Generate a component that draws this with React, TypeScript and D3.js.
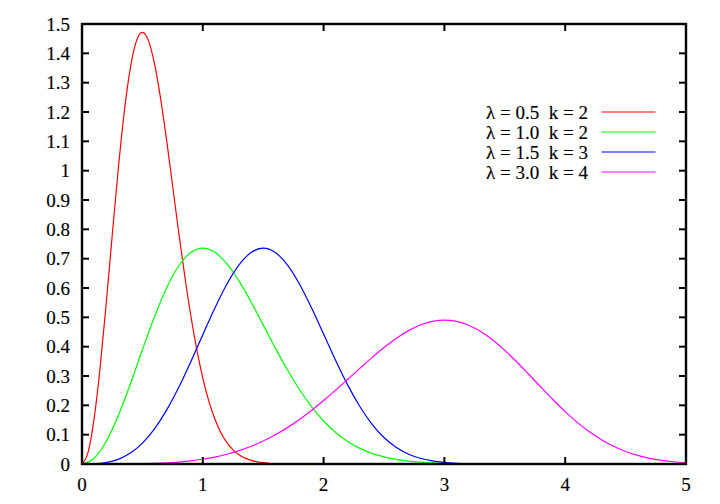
import React from 'react';
import * as d3 from 'd3';

const WIDTH = 720;
const HEIGHT = 504;
const MARGIN = { top: 24, right: 34, bottom: 40, left: 82 };

// sample grids (x values) for the curves
const RED_X = d3.range(41).map((i) => i * 0.05);
const X_GRID = d3.range(51).map((i) => i * 0.1);

// values
const redValues = [
  0, 0.0396, 0.1537, 0.329, 0.5453, 0.7788, 1.0047, 1.2007, 1.3499, 1.4415, 1.4715, 1.4433, 1.3645,
  1.2472, 1.1047, 0.9487, 0.7916, 0.6426, 0.5079, 0.3906, 0.2931, 0.2143, 0.1532, 0.1066, 0.0726,
  0.0483, 0.0313, 0.0199, 0.0124, 0.0075, 0.0044, 0.0026, 0.0015, 0.0008, 0.0004, 0.0002, 0.0001,
  0.0001, 0, 0, 0,
];
const greenValues = [
  0, 0.0198, 0.0769, 0.1645, 0.2727, 0.3894, 0.5023, 0.6003, 0.6749, 0.7207, 0.7358, 0.7216, 0.6823,
  0.6236, 0.5523, 0.4743, 0.3958, 0.3213, 0.254, 0.1953, 0.1465, 0.1072, 0.0766, 0.0533, 0.0363,
  0.0241, 0.0157, 0.01, 0.0062, 0.0037, 0.0022, 0.0013, 0.0007, 0.0004, 0.0002, 0.0001, 0, 0, 0, 0,
  0, 0, 0, 0, 0, 0, 0, 0, 0, 0, 0,
];
const blueValues = [
  0, 0.0006, 0.0047, 0.0159, 0.0372, 0.0714, 0.1201, 0.1836, 0.2607, 0.3481, 0.4406, 0.5317, 0.6137,
  0.679, 0.7211, 0.7358, 0.7211, 0.6789, 0.6138, 0.5325, 0.4429, 0.3529, 0.2688, 0.1961, 0.1363,
  0.0904, 0.0571, 0.0342, 0.0195, 0.0105, 0.0054, 0.0026, 0.0012, 0.0005, 0.0002, 0.0001, 0, 0, 0, 0,
  0, 0, 0, 0, 0, 0, 0, 0, 0, 0, 0,
];
const magentaValues = [
  0, 0, 0, 0.0001, 0.0004, 0.001, 0.0021, 0.0039, 0.0067, 0.0107, 0.0163, 0.0237, 0.0333, 0.0454,
  0.0603, 0.0783, 0.0995, 0.124, 0.1518, 0.1826, 0.2162, 0.2518, 0.2888, 0.3261, 0.3626, 0.397,
  0.4279, 0.4539, 0.4737, 0.4862, 0.4905, 0.4861, 0.473, 0.4515, 0.4225, 0.3874, 0.3477, 0.305,
  0.2616, 0.219, 0.1786, 0.142, 0.1099, 0.0827, 0.0603, 0.0427, 0.0293, 0.0194, 0.0124, 0.0077,
  0.0046,
];

const seriesLabels = ['λ = 0.5  k = 2', 'λ = 1.0  k = 2', 'λ = 1.5  k = 3', 'λ = 3.0  k = 4'];
const seriesColors = ['#ff0000', '#00ff00', '#0000ff', '#ff00ff'];

const xTicks = [0, 1, 2, 3, 4, 5];
const yTicks = d3.range(16).map((i) => i / 10);

export default function App() {
  const boundsWidth = WIDTH - MARGIN.left - MARGIN.right;
  const boundsHeight = HEIGHT - MARGIN.top - MARGIN.bottom;

  const xScale = d3.scaleLinear().domain([0, 5]).range([0, boundsWidth]);
  const yScale = d3.scaleLinear().domain([0, 1.5]).range([boundsHeight, 0]);

  const line = d3
    .line<[number, number]>()
    .x((d) => xScale(d[0]))
    .y((d) => yScale(d[1]))
    .curve(d3.curveMonotoneX);

  const series = [
    RED_X.map((x, i) => [x, redValues[i]] as [number, number]),
    X_GRID.map((x, i) => [x, greenValues[i]] as [number, number]),
    X_GRID.map((x, i) => [x, blueValues[i]] as [number, number]),
    X_GRID.map((x, i) => [x, magentaValues[i]] as [number, number]),
  ];

  const TICK = 7;
  const textStyle = { fontFamily: '"Liberation Serif"', fontSize: 19, whiteSpace: 'pre' as const };

  return (
    <svg width={WIDTH} height={HEIGHT} style={{ position: 'absolute', left: 0, top: 0, background: '#fff' }}>
      <rect width={WIDTH} height={HEIGHT} fill="#fff" />
      <g transform={`translate(${MARGIN.left},${MARGIN.top})`}>
        {/* curves */}
        {series.map((pts, i) => (
          <path key={i} d={line(pts) || ''} fill="none" stroke={seriesColors[i]} strokeWidth={1.2} />
        ))}

        {/* ticks */}
        {yTicks.map((v, i) => (
          <g key={'y' + i}>
            <line x1={0} x2={TICK} y1={yScale(v)} y2={yScale(v)} stroke="#000" strokeWidth={2} />
            <line
              x1={boundsWidth - TICK}
              x2={boundsWidth}
              y1={yScale(v)}
              y2={yScale(v)}
              stroke="#000"
              strokeWidth={2}
            />
            <text x={-12} y={yScale(v) + 6.5} textAnchor="end" style={textStyle} fill="#000" stroke="#000" strokeWidth={0.15}>
              {v === 0 ? '0' : v === 1 ? '1' : v.toFixed(1)}
            </text>
          </g>
        ))}
        {xTicks.map((v, i) => (
          <g key={'x' + i}>
            <line x1={xScale(v)} x2={xScale(v)} y1={boundsHeight} y2={boundsHeight - TICK} stroke="#000" strokeWidth={2} />
            <line x1={xScale(v)} x2={xScale(v)} y1={0} y2={TICK} stroke="#000" strokeWidth={2} />
            <text x={xScale(v)} y={boundsHeight + 27} textAnchor="middle" style={textStyle} fill="#000" stroke="#000" strokeWidth={0.15}>
              {v}
            </text>
          </g>
        ))}

        {/* frame */}
        <rect x={0} y={0} width={boundsWidth} height={boundsHeight} fill="none" stroke="#000" strokeWidth={2.4} />

        {/* legend */}
        {seriesLabels.map((label, i) => {
          const y = 88 + i * 20;
          return (
            <g key={'l' + i}>
              <text x={506} y={y + 6.5} textAnchor="end" style={textStyle} fill="#000" stroke="#000" strokeWidth={0.15}>
                {label}
              </text>
              <line x1={519.5} x2={573.5} y1={y} y2={y} stroke={seriesColors[i]} strokeWidth={1.2} />
            </g>
          );
        })}
      </g>
    </svg>
  );
}
